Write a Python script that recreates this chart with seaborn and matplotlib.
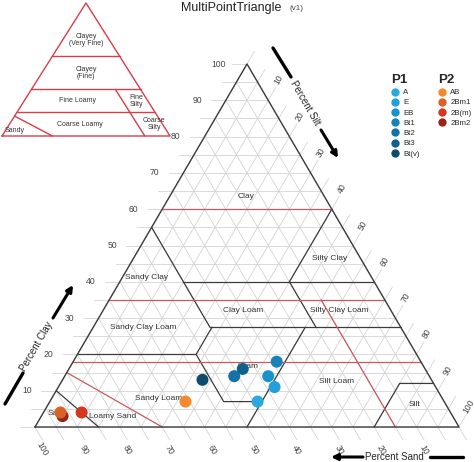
"""
MultiPointTriangle (v1): USDA soil texture triangle with two profiles
(P1, P2) plotted as horizons, plus a small inset of family particle-size
classes in the upper-left corner.
"""

import matplotlib

matplotlib.use("Agg")
import matplotlib.pyplot as plt
import numpy as np
import pandas as pd
import seaborn as sns
from matplotlib.lines import Line2D

W, H = 474, 462

# horizon compositions, percent (sand, silt, clay)
P1_HORIZONS = ["A", "E", "EB", "Bt1", "Bt2", "Bt3", "Bt(v)"]
P1_SAND = [44, 38, 38, 34, 46, 43, 54]
P1_SILT = [49, 51, 48, 48, 40, 41, 33]
P1_CLAY = [7, 11, 14, 18, 14, 16, 13]
P1_COLORS = ["#2aa9e0", "#22a0da", "#1a93cc", "#1882b9", "#1572a6", "#11618d", "#0c4d6e"]

P2_HORIZONS = ["AB", "2Bm1", "2B(m)", "2Bm2"]
P2_SAND = [61, 92, 87, 92]
P2_SILT = [32, 4, 9, 5]
P2_CLAY = [7, 4, 4, 3]
P2_COLORS = ["#f58a2c", "#dc6128", "#d5361f", "#992516"]

# USDA texture class boundaries, each a polyline of (sand, silt, clay)
USDA_LINES = [
    [(45, 0, 55), (45, 27.5, 27.5)],
    [(45, 15, 40), (0, 60, 40)],
    [(20, 40, 40), (0, 40, 60)],
    [(20, 40, 40), (20, 52.5, 27.5)],
    [(45, 27.5, 27.5), (0, 72.5, 27.5)],
    [(80, 0, 20), (52, 28, 20)],
    [(44.5, 28, 27.5), (52, 28, 20), (52, 41, 7), (43, 50, 7)],
    [(22.5, 50, 27.5), (50, 50, 0)],
    [(20, 80, 0), (8, 80, 12), (0, 88, 12)],
    [(90, 0, 10), (85, 15, 0)],
]

# family particle-size class boundaries (red)
FAMILY_LINES = [
    [(40, 0, 60), (0, 40, 60)],
    [(65, 0, 35), (0, 65, 35)],
    [(82, 0, 18), (0, 82, 18)],
    [(85, 0, 15), (70, 30, 0)],
    [(15, 50, 35), (15, 85, 0)],
]

REGION_NAMES = ["Clay", "Silty Clay", "Sandy Clay", "Clay Loam", "Silty Clay Loam",
                "Sandy Clay Loam", "Loam", "Sandy Loam", "Silt Loam", "Silt",
                "Loamy Sand", "Sand"]
REGION_X = [49.8, 69.6, 26.4, 49.1, 71.7, 25.5, 50.3, 29.2, 71.2, 89.6, 18.4, 5.2]
REGION_Y = [63.5, 46.4, 41.2, 32.1, 32.1, 27.5, 16.8, 7.9, 12.4, 6.3, 3.0, 3.6]

INSET_NAMES = ["Clayey\n(Very Fine)", "Clayey\n(Fine)", "Fine Loamy", "Fine\nSilty",
               "Coarse Loamy", "Coarse\nSilty", "Sandy"]
INSET_X = [50, 50, 45, 80, 46.4, 90.5, 7.5]
INSET_Y = [72, 47, 27, 26, 9, 9, 4.5]

GRID_STEPS = np.arange(0, 101, 5)
LABEL_STEPS = np.arange(10, 101, 10)

RED_MAIN = "#c65a5e"
RED_INSET = "#d63e4a"
DARK = "#3c3c3c"
GRID = "#d4d4d4"


def tern(sand, silt, clay):
    """(sand, silt, clay) -> plot coords: x runs sand->silt, y is clay."""
    return silt + clay / 2.0, clay


def fpx(x, y):
    return x / W, 1 - y / H


def draw_polyline(ax, pts, **kw):
    xy = np.array([tern(*p) for p in pts])
    ax.plot(xy[:, 0], xy[:, 1], **kw)


def main() -> None:
    sns.set_style("white")
    plt.rcParams["font.family"] = ["Liberation Sans", "DejaVu Sans"]

    fig = plt.figure(figsize=(W / 100, H / 100), dpi=100)
    ax = fig.add_axes([0, 0, 1, 1])
    ax.set_xlim(-35 / 4.24, (W - 35) / 4.24)
    ax.set_ylim(-(H - 427) / 3.63, 427 / 3.63)
    ax.axis("off")

    # grid + outer ticks for the three components
    t = 3.5
    for k in GRID_STEPS:
        # clay: horizontal, tick out to the left
        ax.plot([k / 2 - t, 100 - k / 2], [k, k], color=GRID, lw=0.6, zorder=1)
        # silt: parallel to left edge, tick beyond the right edge
        x0, y0 = tern(100 - k, k, 0)
        x1, y1 = tern(0, k, 100 - k)
        ax.plot([x0, x1 + 0.5 * t], [y0, y1 + t], color=GRID, lw=0.6, zorder=1)
        # sand: parallel to right edge, tick below the bottom edge
        x0, y0 = tern(k, 0, 100 - k)
        x1, y1 = tern(k, 100 - k, 0)
        ax.plot([x0, x1 + 0.5 * t], [y0, y1 - t], color=GRID, lw=0.6, zorder=1)

    tick_kw = dict(ha="center", va="center", fontsize=6.2, color="#444444")
    for k in LABEL_STEPS:
        x, y = tern(0, 0, k)
        ax.text(x - 6.8, y, f"{k}", **tick_kw)
        x, y = tern(0, k, 100 - k)
        ax.text(x + 2.4, y + 5.6, f"{k}", rotation=60, **tick_kw)
        x, y = tern(k, 100 - k, 0)
        ax.text(x + 1.7, y - 6.2, f"{k}", rotation=-60, **tick_kw)

    for line in USDA_LINES:
        draw_polyline(ax, line, color=DARK, lw=0.9, zorder=2)
    for line in FAMILY_LINES:
        draw_polyline(ax, line, color=RED_MAIN, lw=0.9, zorder=3)
    draw_polyline(ax, [(100, 0, 0), (0, 100, 0), (0, 0, 100), (100, 0, 0)],
                  color=DARK, lw=1.0, zorder=3)

    for name, x, y in zip(REGION_NAMES, REGION_X, REGION_Y):
        ax.text(x, y, name, ha="center", va="center", fontsize=6.0, color="#333333", zorder=4)

    # horizons
    frames = []
    for prof, hz, sa, si, cl in [("P1", P1_HORIZONS, P1_SAND, P1_SILT, P1_CLAY),
                                 ("P2", P2_HORIZONS, P2_SAND, P2_SILT, P2_CLAY)]:
        d = pd.DataFrame({"profile": prof, "horizon": hz, "sand": sa, "silt": si, "clay": cl})
        frames.append(d)
    df = pd.concat(frames, ignore_index=True)
    df["x"], df["y"] = tern(df["sand"], df["silt"], df["clay"])
    palette = dict(zip(P1_HORIZONS + P2_HORIZONS, P1_COLORS + P2_COLORS))
    sns.scatterplot(data=df.iloc[::-1], x="x", y="y", hue="horizon", palette=palette,
                    s=75, linewidth=0, legend=False, ax=ax, zorder=5)
    ax.set_xlabel("")
    ax.set_ylabel("")

    # legends
    for title, names, cols, left in [("P1", P1_HORIZONS, P1_COLORS, 391),
                                     ("P2", P2_HORIZONS, P2_COLORS, 438)]:
        handles = [Line2D([], [], marker="o", linestyle="", markersize=6,
                          markerfacecolor=c, markeredgecolor="none") for c in cols]
        fig.legend(handles, names, loc="upper left", bbox_to_anchor=fpx(left, 74),
                   frameon=False, fontsize=5.6, title=title, alignment="left",
                   title_fontproperties={"weight": "bold", "size": 9.5},
                   handlelength=1.0, handletextpad=0.6, labelspacing=0.36,
                   borderpad=0, borderaxespad=0)

    # axis names with arrows
    fig.text(*fpx(37, 346), "Percent Clay", rotation=60, ha="center", va="center", fontsize=7)
    fig.text(*fpx(305, 103), "Percent Silt", rotation=-60, ha="center", va="center", fontsize=7)
    fig.text(*fpx(394, 457), "Percent Sand", ha="center", va="center", fontsize=7)
    for (xa, ya), (xb, yb) in [((5, 404), (23, 373)), ((273, 48), (291, 77)),
                               ((430, 457), (463, 457))]:
        fig.add_artist(Line2D([xa / W, xb / W], [1 - ya / H, 1 - yb / H],
                              transform=fig.transFigure, color="black", lw=2.4))
    for start, end in [((53, 318), (73, 285)), ((321, 130), (338, 158)),
                       ((363, 457), (331, 457))]:
        ax.annotate("", xy=fpx(*end), xytext=fpx(*start), xycoords="figure fraction",
                    textcoords="figure fraction",
                    arrowprops=dict(arrowstyle="-|>", color="black", lw=2.2,
                                    mutation_scale=9, shrinkA=0, shrinkB=0))

    # title
    fig.text(*fpx(231, 8), "MultiPointTriangle", ha="center", va="center", fontsize=9,
             color="#222222")
    fig.text(*fpx(296, 9), "(v1)", ha="center", va="center", fontsize=5.8, color="#444444")

    # inset: family particle-size classes
    ins = fig.add_axes([2 / W, 1 - 136 / H, 168 / W, 133 / H])
    ins.set_xlim(0, 100)
    ins.set_ylim(0, 100)
    ins.axis("off")
    draw_polyline(ins, [(100, 0, 0), (0, 100, 0), (0, 0, 100), (100, 0, 0)],
                  color=RED_INSET, lw=1.0, clip_on=False)
    for line in FAMILY_LINES:
        draw_polyline(ins, line, color=RED_INSET, lw=1.0, clip_on=False)
    for name, x, y in zip(INSET_NAMES, INSET_X, INSET_Y):
        ins.text(x, y, name, ha="center", va="center", fontsize=5.0, color="#333333",
                 linespacing=1.0)

    fig.savefig("out.png", dpi=100)
    plt.close(fig)


if __name__ == "__main__":
    main()
